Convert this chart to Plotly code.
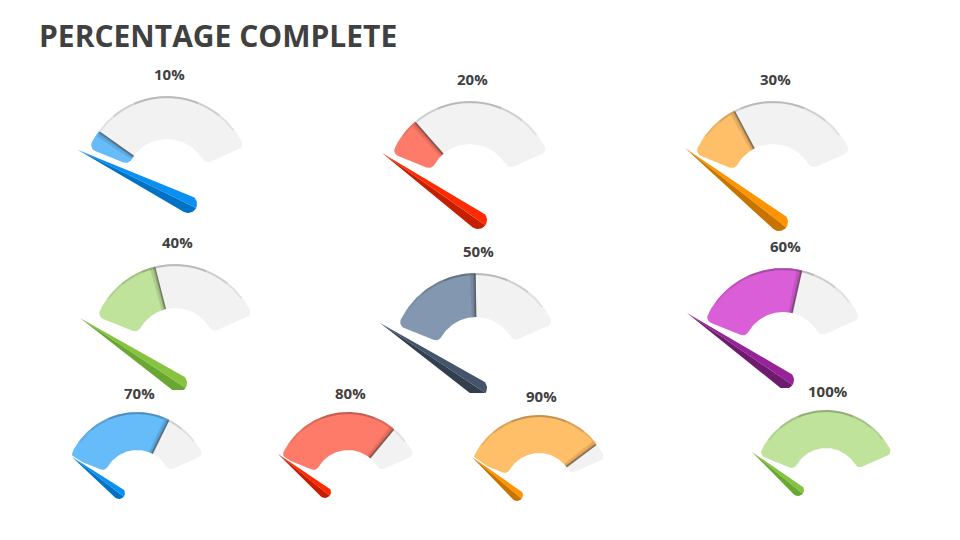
import math
import plotly.graph_objects as go

# gauge values
labels = ["10%", "20%", "30%", "40%", "50%", "60%", "70%", "80%", "90%", "100%"]
values = [10, 20, 30, 40, 50, 60, 70, 80, 90, 100]

# colours: arc fill, needle light half, needle dark half
fill_colors = ["#66BBF9", "#FF7B69", "#FFBF69", "#BFE39A", "#8497B0",
               "#DA5ED8", "#66BBF9", "#FF7B69", "#FFBF69", "#BFE39A"]
needle_light = ["#0A90F2", "#FF2A00", "#FF9400", "#86C440", "#44546A",
                "#982399", "#0A90F2", "#FF2A00", "#FF9400", "#86C440"]
needle_dark = ["#0072C6", "#C41F00", "#C67300", "#6AA632", "#323F4F",
               "#6E1A6F", "#0072C6", "#C41F00", "#C67300", "#6AA632"]
track_color = "#F2F2F2"

# layout of the slide (pixels)
cxs = [167, 470, 773, 175, 476, 783, 137, 348, 539, 826]
cys = [180, 185, 185, 348, 357, 352, 484, 484, 487, 482]
outer = [84, 84, 84, 84, 84, 84, 72, 72, 72, 72]
inner = [41, 41, 41, 40, 40, 40, 34, 34, 34, 34]
tip_off = [(-89, -30), (-88, -32), (-88, -37), (-95, -30), (-96, -34),
           (-96, -39), (-65, -27), (-70, -30), (-67, -30), (-74, -30)]
tail_off = [(21, 24), (8, 35), (6, 37), (3, 35), (2, 31),
            (2, 28), (-18, 9), (-23, 8), (-22, 8), (-28, 8)]
needle_w = [9, 9, 9, 9, 9, 9, 6, 6, 6, 6]
clip_y = [None, None, None, 390, 393, 388, None, None, None, None]

A_START, A_END = 158.0, 23.0
PAGE_MARGIN = 8  # default body margin of the html page


def pol(cx, cy, rad, ang):
    a = math.radians(ang)
    return cx + rad * math.cos(a), cy - rad * math.sin(a)


def arc_pts(cx, cy, rad, a0, a1, n=None):
    n = n or max(4, int(abs(a1 - a0) / 1.5))
    return [pol(cx, cy, rad, a0 + (a1 - a0) * i / n) for i in range(n + 1)]


def band(cx, cy, ri, ro, a_hi, a_lo, round_hi, round_lo, rc):
    do = math.degrees(math.asin(rc / (ro - rc)))
    di = math.degrees(math.asin(rc / (ri + rc)))
    pts = arc_pts(cx, cy, ro, a_lo + (do if round_lo else 0), a_hi - (do if round_hi else 0))
    if round_hi:
        x, y = pol(cx, cy, ro - rc, a_hi - do)
        pts += arc_pts(x, y, rc, a_hi - do, a_hi + 90, 8)
        x, y = pol(cx, cy, ri + rc, a_hi - di)
        pts += arc_pts(x, y, rc, a_hi + 90, a_hi - di + 180, 8)
    pts += arc_pts(cx, cy, ri, a_hi - (di if round_hi else 0), a_lo + (di if round_lo else 0))
    if round_lo:
        x, y = pol(cx, cy, ri + rc, a_lo + di)
        pts += arc_pts(x, y, rc, a_lo + di + 180, a_lo + 270, 8)
        x, y = pol(cx, cy, ro - rc, a_lo + do)
        pts += arc_pts(x, y, rc, a_lo - 90, a_lo + do, 8)
    return pts


def clip_below(pts, ymax):
    if ymax is None:
        return pts
    out = []
    for i in range(len(pts)):
        p, q = pts[i], pts[(i + 1) % len(pts)]
        pin, qin = p[1] <= ymax, q[1] <= ymax
        if pin:
            out.append(p)
        if pin != qin:
            t = (ymax - p[1]) / (q[1] - p[1])
            out.append((p[0] + t * (q[0] - p[0]), ymax))
    return out


def poly(fig, pts, color, line_color=None, line_w=0):
    xs = [p[0] for p in pts] + [pts[0][0]]
    ys = [p[1] for p in pts] + [pts[0][1]]
    fig.add_trace(go.Scatter(x=xs, y=ys, mode="lines", fill="toself", fillcolor=color,
                             line=dict(color=line_color or color, width=line_w),
                             hoverinfo="skip"))


def line(fig, pts, color, width):
    fig.add_trace(go.Scatter(x=[p[0] for p in pts], y=[p[1] for p in pts], mode="lines",
                             line=dict(color=color, width=width), hoverinfo="skip"))


fig = go.Figure()

for i, v in enumerate(values):
    cx, cy, ro, ri = cxs[i], cys[i], outer[i], inner[i]
    rc = 0.075 * ro
    ang = A_START - v / 100 * (A_START - A_END)

    # grey track and coloured fill
    poly(fig, band(cx, cy, ri, ro, A_START, A_END, True, True, rc), track_color)
    poly(fig, band(cx, cy, ri, ro, A_START, ang, True, v >= 100, rc), fill_colors[i])

    # soft shadow along the top edge
    for k, op in [(14, 0.07), (28, 0.08), (45, 0.10)]:
        line(fig, arc_pts(cx, cy, ro - 1, A_END + k, A_START - k), f"rgba(0,0,0,{op})", 2)

    # shadow where the fill ends
    if v < 100:
        line(fig, [pol(cx, cy, ri, ang + 1.8), pol(cx, cy, ro - 1.5, ang + 1.8)], "rgba(0,0,0,0.10)", 5)
        line(fig, [pol(cx, cy, ri, ang + 0.6), pol(cx, cy, ro - 1.5, ang + 0.6)], "rgba(0,0,0,0.15)", 2.5)
        line(fig, [pol(cx, cy, ri, ang), pol(cx, cy, ro - 1, ang)], "rgba(0,0,0,0.35)", 1.2)

    # needle
    tx, ty = cx + tip_off[i][0], cy + tip_off[i][1]
    fx, fy = cx + tail_off[i][0], cy + tail_off[i][1]
    w = needle_w[i]
    L = math.hypot(fx - tx, fy - ty)
    ux, uy = (fx - tx) / L, (fy - ty) / L
    nx, ny = uy, -ux
    th = math.degrees(math.atan2(uy, ux))

    def cap(a0, a1):
        return [(fx + w * math.cos(math.radians(a0 + (a1 - a0) * j / 12)),
                 fy + w * math.sin(math.radians(a0 + (a1 - a0) * j / 12))) for j in range(13)]

    whole = [(tx, ty), (fx + w * nx, fy + w * ny)] + cap(th - 90, th + 90)
    upper = [(tx, ty), (fx + w * nx, fy + w * ny)] + cap(th - 90, th) + [(fx, fy)]
    lower = [(tx, ty), (fx, fy)] + cap(th, th + 90)
    poly(fig, clip_below(whole, clip_y[i]), "white", "white", 2.5)
    poly(fig, clip_below(upper, clip_y[i]), needle_light[i])
    poly(fig, clip_below(lower, clip_y[i]), needle_dark[i])

    # percentage label
    fig.add_annotation(x=cx + 2, y=cy - 1.26 * ro, text=f"<b>{labels[i]}</b>", showarrow=False,
                       font=dict(family="Open Sans", size=15, color="#404040"),
                       xanchor="center", yanchor="middle")

fig.add_annotation(x=37, y=35, text="<b>PERCENTAGE COMPLETE</b>", showarrow=False,
                   font=dict(family="Open Sans", size=30, color="#404040"),
                   xanchor="left", yanchor="middle")

fig.update_layout(
    width=960 - PAGE_MARGIN, height=540 - PAGE_MARGIN,
    margin=dict(l=0, r=0, t=0, b=0),
    xaxis=dict(range=[PAGE_MARGIN, 960], visible=False, fixedrange=True),
    yaxis=dict(range=[540, PAGE_MARGIN], visible=False, fixedrange=True),
    plot_bgcolor="white", paper_bgcolor="white",
    showlegend=False,
)

fig.write_html("out.html")
